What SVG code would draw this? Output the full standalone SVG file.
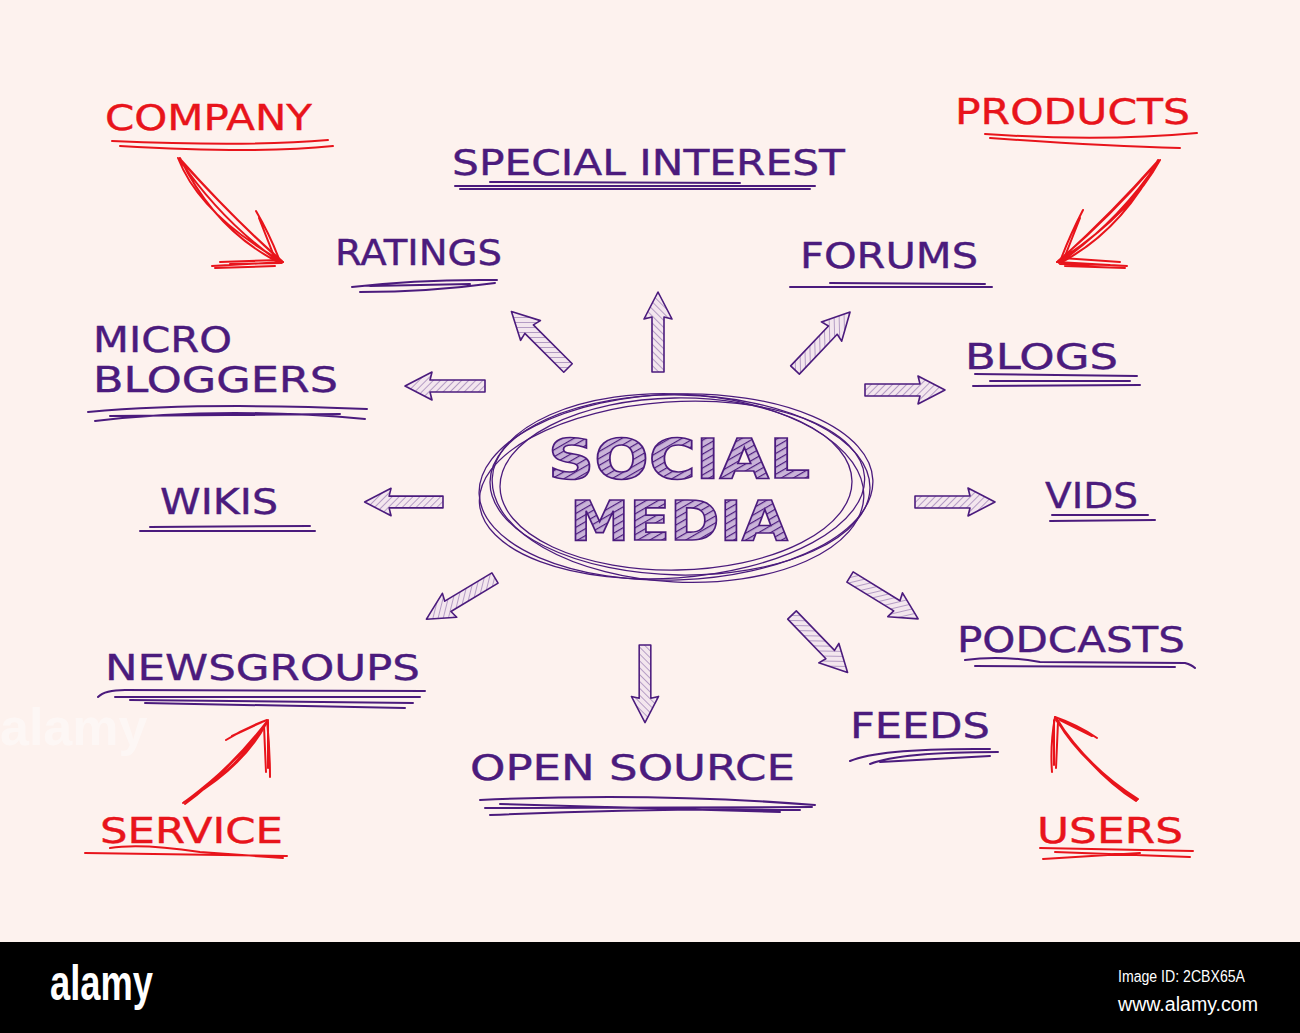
<svg xmlns="http://www.w3.org/2000/svg" width="1300" height="1033" viewBox="0 0 1300 1033">
<defs>
<pattern id="hatch" width="5" height="5" patternUnits="userSpaceOnUse" patternTransform="rotate(45)">
<rect width="5" height="5" fill="#f3e6ee"/>
<line x1="0" y1="0" x2="0" y2="5" stroke="#8a6aa8" stroke-width="1.2"/>
</pattern>
<pattern id="hatch2" width="6" height="6" patternUnits="userSpaceOnUse" patternTransform="rotate(60)">
<rect width="6" height="6" fill="#c9b3d8"/>
<line x1="0" y1="0" x2="0" y2="6" stroke="#4b1b7d" stroke-width="2.4"/>
</pattern>
<path id="barrow" d="M0,-6 L55,-6 L53,-14 L80,0 L53,14 L55,6 L0,6 Z"/>
</defs>
<style>
.lbl{font-family:"DejaVu Sans","Liberation Sans",sans-serif;font-size:36px;fill:#4b1b7d;stroke:#4b1b7d;stroke-width:0.4}
.red{fill:#e8141b;stroke:#e8141b}
.ul{fill:none;stroke:#4b1b7d;stroke-width:2;stroke-linecap:round}
.ulr{fill:none;stroke:#e8141b;stroke-width:2;stroke-linecap:round}
.ba{fill:url(#hatch);stroke:#4b1b7d;stroke-width:1.6;stroke-linejoin:round}
.ell{fill:none;stroke:#4b1b7d;stroke-width:1.3}
.ra{fill:none;stroke:#e8141b;stroke-width:2;stroke-linecap:round;stroke-linejoin:round}
.big{font-family:"DejaVu Sans","Liberation Sans",sans-serif;font-weight:bold;font-size:56px;fill:url(#hatch2);stroke:#4b1b7d;stroke-width:1.6}
</style>
<rect width="1300" height="1033" fill="#fdf2ee"/>

<g id="connectors">
<use href="#barrow" class="ba" transform="translate(568,368) rotate(-135)"/>
<use href="#barrow" class="ba" transform="translate(658,372) rotate(-90)"/>
<use href="#barrow" class="ba" transform="translate(795,370) rotate(-46.5)"/>
<use href="#barrow" class="ba" transform="translate(865,390)"/>
<use href="#barrow" class="ba" transform="translate(485,386) rotate(180)"/>
<use href="#barrow" class="ba" transform="translate(443,502) rotate(180) scale(0.98)"/>
<use href="#barrow" class="ba" transform="translate(915,502)"/>
<use href="#barrow" class="ba" transform="translate(495,578) rotate(149)"/>
<use href="#barrow" class="ba" transform="translate(645,645) rotate(90) scale(0.97)"/>
<use href="#barrow" class="ba" transform="translate(792,615) rotate(46)"/>
<use href="#barrow" class="ba" transform="translate(850,577) rotate(31.6)"/>
<g id="arrow-company">
<path class="ra" d="M178,158 Q200,215 283,262 M181,160 Q230,215 280,260 M180,158 Q215,230 278,262 M184,164 Q240,225 282,261 M179,159 Q222,222 281,263"/>
<path class="ra" d="M256,211 Q270,235 279,259 M259,218 L274,256 M212,266 L283,262 M220,262 L280,260 M215,268 L275,266 M230,264 L282,263"/>
</g>
<g id="arrow-products">
<path class="ra" d="M1160,160 Q1130,215 1057,262 M1157,162 Q1110,215 1060,260 M1158,160 Q1122,230 1062,262 M1154,166 Q1105,222 1058,261 M1159,161 Q1118,222 1059,263"/>
<path class="ra" d="M1083,210 Q1070,235 1061,259 M1080,218 L1065,256 M1057,262 L1127,266 M1062,258 L1120,262 M1065,266 L1125,268 M1060,264 L1110,265"/>
</g>
<g id="arrow-service">
<path class="ra" d="M183,803 Q230,770 268,720 M186,801 Q240,760 265,725 M185,804 Q225,775 266,723 M190,798 Q245,765 267,722 M184,802 Q236,772 268,721"/>
<path class="ra" d="M267,720 Q245,728 226,740 M262,722 L232,736 M267,720 Q270,750 270,777 M264,726 L266,772 M268,722 L268,768"/>
</g>
<g id="arrow-users">
<path class="ra" d="M1137,800 Q1090,770 1055,717 M1134,798 Q1080,760 1058,722 M1136,801 Q1095,775 1056,720 M1130,796 Q1085,765 1057,719 M1138,799 Q1088,768 1056,718"/>
<path class="ra" d="M1055,717 Q1078,725 1097,738 M1060,720 L1092,736 M1055,717 Q1050,745 1052,772 M1058,722 L1056,768 M1054,720 L1054,765"/>
</g>
</g>

<g id="node-center">
<ellipse class="ell" cx="676" cy="487" rx="197" ry="93" transform="rotate(-2 676 487)"/>
<ellipse class="ell" cx="680" cy="485" rx="190" ry="90" transform="rotate(1 680 485)"/>
<ellipse class="ell" cx="672" cy="490" rx="193" ry="88" transform="rotate(-4 672 490)"/>
<ellipse class="ell" cx="678" cy="488" rx="186" ry="94" transform="rotate(3 678 488)"/>
<ellipse class="ell" cx="676" cy="484" rx="176" ry="86" transform="rotate(-1 676 484)"/>
<text class="big" x="548" y="478" textLength="262" lengthAdjust="spacingAndGlyphs">SOCIAL</text>
<text class="big" x="570" y="540" textLength="218" lengthAdjust="spacingAndGlyphs">MEDIA</text>
</g>

<g id="node-company">
<text class="lbl red" x="105" y="130" textLength="207" lengthAdjust="spacingAndGlyphs">COMPANY</text>
<path class="ulr" d="M112,141 Q250,147 328,140 M120,146 Q260,154 333,146"/>
</g>
<g id="node-special">
<text class="lbl" x="452" y="175" textLength="393" lengthAdjust="spacingAndGlyphs">SPECIAL INTEREST</text>
<path class="ul" d="M455,186 L815,186" stroke-width="4"/>
<path class="ul" d="M490,182 L740,183 M460,189 L810,189"/>
</g>
<g id="node-products">
<text class="lbl red" x="955" y="124" textLength="235" lengthAdjust="spacingAndGlyphs">PRODUCTS</text>
<path class="ulr" d="M985,134 Q1100,142 1197,133 M990,138 Q1100,146 1180,148"/>
</g>
<g id="node-ratings">
<text class="lbl" x="335" y="265" textLength="167" lengthAdjust="spacingAndGlyphs">RATINGS</text>
<path class="ul" d="M352,287 Q420,279 497,280 M360,292 Q430,292 495,283 M370,286 L470,284"/>
</g>
<g id="node-forums">
<text class="lbl" x="800" y="268" textLength="178" lengthAdjust="spacingAndGlyphs">FORUMS</text>
<path class="ul" d="M790,287 L992,287" stroke-width="3.5"/>
<path class="ul" d="M830,283 L985,284"/>
</g>
<g id="node-microbloggers">
<text class="lbl" x="93" y="352" textLength="139" lengthAdjust="spacingAndGlyphs">MICRO</text>
<text class="lbl" x="93" y="392" textLength="245" lengthAdjust="spacingAndGlyphs">BLOGGERS</text>
<path class="ul" d="M88,412 Q200,402 367,409 M95,421 Q220,406 365,419 M110,416 L340,414"/>
</g>
<g id="node-blogs">
<text class="lbl" x="965" y="369" textLength="153" lengthAdjust="spacingAndGlyphs">BLOGS</text>
<path class="ul" d="M975,374 L1137,376 M990,381 L1130,381 M973,386 L1140,385"/>
</g>
<g id="node-wikis">
<text class="lbl" x="160" y="514" textLength="118" lengthAdjust="spacingAndGlyphs">WIKIS</text>
<path class="ul" d="M140,531 L315,531" stroke-width="3.5"/>
<path class="ul" d="M150,527 L310,526"/>
</g>
<g id="node-vids">
<text class="lbl" x="1045" y="508" textLength="93" lengthAdjust="spacingAndGlyphs">VIDS</text>
<path class="ul" d="M1052,515 L1148,515"/>
<path class="ul" d="M1050,521 L1155,520" stroke-width="2.8"/>
</g>
<g id="node-newsgroups">
<text class="lbl" x="105" y="680" textLength="315" lengthAdjust="spacingAndGlyphs">NEWSGROUPS</text>
<path class="ul" d="M98,697 Q105,690 125,690 L425,691 M115,697 L420,697 M130,700 L413,703 M145,703 L405,708"/>
</g>
<g id="node-podcasts">
<text class="lbl" x="957" y="652" textLength="228" lengthAdjust="spacingAndGlyphs">PODCASTS</text>
<path class="ul" d="M965,660 Q1000,655 1040,662 L1185,663 Q1192,665 1195,668 M975,666 L1175,667"/>
</g>
<g id="node-feeds">
<text class="lbl" x="850" y="738" textLength="140" lengthAdjust="spacingAndGlyphs">FEEDS</text>
<path class="ul" d="M850,761 Q880,748 990,749 M870,764 Q900,752 998,752 M880,762 L990,756"/>
</g>
<g id="node-opensource">
<text class="lbl" x="470" y="780" textLength="325" lengthAdjust="spacingAndGlyphs">OPEN SOURCE</text>
<path class="ul" d="M480,800 Q650,792 815,805 M485,808 L812,807 M490,815 Q650,808 800,810 M500,804 L780,812"/>
</g>
<g id="node-service">
<text class="lbl red" x="100" y="843" textLength="183" lengthAdjust="spacingAndGlyphs">SERVICE</text>
<path class="ulr" d="M85,853 L287,856 M110,848 Q140,843 200,852 L283,858"/>
</g>
<g id="node-users">
<text class="lbl red" x="1037" y="843" textLength="146" lengthAdjust="spacingAndGlyphs">USERS</text>
<path class="ulr" d="M1040,848 L1193,851 M1055,852 L1190,857 M1043,859 L1140,853"/>
</g>

<g id="watermark">
<text x="0" y="745" font-family="Liberation Sans, sans-serif" font-weight="bold" font-size="52" fill="#ffffff" opacity="0.45">alamy</text>
</g>

<g id="footer">
<rect x="0" y="942" width="1300" height="91" fill="#000000"/>
<text x="50" y="1000" font-family="Liberation Sans, sans-serif" font-weight="bold" font-size="50" fill="#ffffff" textLength="103" lengthAdjust="spacingAndGlyphs">alamy</text>
<text x="1118" y="982" font-family="Liberation Sans, sans-serif" font-size="16" fill="#ffffff" textLength="127" lengthAdjust="spacingAndGlyphs">Image ID: 2CBX65A</text>
<text x="1118" y="1011" font-family="Liberation Sans, sans-serif" font-size="20" fill="#ffffff" textLength="140" lengthAdjust="spacingAndGlyphs">www.alamy.com</text>
</g>
</svg>
